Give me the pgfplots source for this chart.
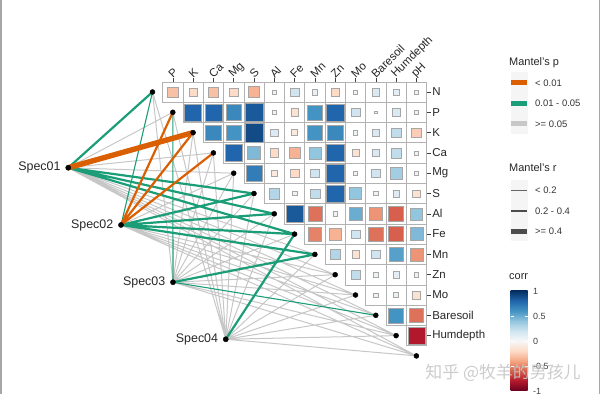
\documentclass[border=0pt]{standalone}
\usepackage{pgfplots}
\pgfplotsset{compat=1.18}
\usepackage{pgfplotstable}
\usepackage{fontspec}
\setmainfont{Liberation Sans}
\newfontfamily\cjk{Noto Sans CJK SC}

\definecolor{rb0}{RGB}{103,0,31}
\definecolor{rb1}{RGB}{178,24,43}
\definecolor{rb2}{RGB}{214,96,77}
\definecolor{rb3}{RGB}{244,165,130}
\definecolor{rb4}{RGB}{253,219,199}
\definecolor{rb5}{RGB}{247,247,247}
\definecolor{rb6}{RGB}{209,229,240}
\definecolor{rb7}{RGB}{146,197,222}
\definecolor{rb8}{RGB}{67,147,195}
\definecolor{rb9}{RGB}{33,102,172}
\definecolor{rb10}{RGB}{5,48,97}
\definecolor{mporange}{HTML}{D95F02}
\definecolor{mpgreen}{HTML}{1B9E77}
\definecolor{mpgray}{HTML}{A2A2A2}

\pgfdeclareverticalshading{rdbu}{100bp}{color(0bp)=(rb0); color(25bp)=(rb0); color(30bp)=(rb1); color(35bp)=(rb2); color(40bp)=(rb3); color(45bp)=(rb4); color(50bp)=(rb5); color(55bp)=(rb6); color(60bp)=(rb7); color(65bp)=(rb8); color(70bp)=(rb9); color(75bp)=(rb10); color(100bp)=(rb10)}

% correlation matrix: x = column (P..pH), y = row (N..Humdepth)
\pgfplotstableread{
x y r
0 0 -0.30
1 0 -0.20
2 0 -0.30
3 0 -0.20
4 0 -0.35
5 0 -0.05
6 0 0.20
7 0 0.08
8 0 -0.20
9 0 0.05
10 0 0.15
11 0 0.10
12 0 0.05
1 1 0.80
2 1 0.80
3 1 0.65
4 1 0.85
5 1 0.05
6 1 -0.15
7 1 0.60
8 1 0.80
9 1 0.20
10 1 0.02
11 1 0.15
12 1 0.05
2 2 0.65
3 2 0.60
4 2 0.90
5 2 0.15
6 2 -0.10
7 2 0.60
8 2 0.65
9 2 0.05
10 2 0.15
11 2 0.25
12 2 -0.25
3 3 0.80
4 3 0.45
5 3 -0.20
6 3 -0.35
7 3 0.40
8 3 0.80
9 3 -0.15
10 3 0.15
11 3 0.25
12 3 0.05
4 4 0.70
5 4 -0.10
6 4 -0.20
7 4 0.20
8 4 0.80
9 4 0.05
10 4 0.20
11 4 0.35
12 4 0.05
5 5 0.30
6 5 0.05
7 5 0.25
8 5 0.80
9 5 0.40
10 5 0.05
11 5 0.12
12 5 -0.15
6 6 0.85
7 6 -0.55
8 6 0.05
9 6 0.50
10 6 -0.45
11 6 -0.60
12 6 0.40
7 7 -0.50
8 7 -0.35
9 7 0.20
10 7 -0.55
11 7 -0.60
12 7 0.45
8 8 0.30
9 8 -0.15
10 8 0.20
11 8 0.55
12 8 -0.45
9 9 0.25
10 9 0.05
11 9 0.10
12 9 0.05
10 10 0.05
11 10 0.07
12 10 -0.15
11 11 0.60
12 11 -0.55
12 12 -0.80
}\corr

% Mantel links, p >= 0.05 (grey, r < 0.2)
\pgfplotstableread{
x y
-5.15 3.73
0 1
nan nan
-5.15 3.73
2 3
nan nan
-5.15 3.73
3 4
nan nan
-5.15 3.73
7 8
nan nan
-5.15 3.73
8 9
nan nan
-5.15 3.73
9 10
nan nan
-5.15 3.73
10 11
nan nan
-5.15 3.73
11 12
nan nan
-5.15 3.73
12 13
nan nan
-2.55 6.55
3 4
nan nan
-2.55 6.55
8 9
nan nan
-2.55 6.55
9 10
nan nan
-2.55 6.55
10 11
nan nan
-2.55 6.55
11 12
nan nan
-2.55 6.55
12 13
nan nan
0.01 9.37
-1 0
nan nan
0.01 9.37
1 2
nan nan
0.01 9.37
2 3
nan nan
0.01 9.37
3 4
nan nan
0.01 9.37
4 5
nan nan
0.01 9.37
5 6
nan nan
0.01 9.37
6 7
nan nan
0.01 9.37
8 9
nan nan
0.01 9.37
9 10
nan nan
0.01 9.37
11 12
nan nan
0.01 9.37
12 13
nan nan
2.61 12.18
-1 0
nan nan
2.61 12.18
0 1
nan nan
2.61 12.18
1 2
nan nan
2.61 12.18
2 3
nan nan
2.61 12.18
3 4
nan nan
2.61 12.18
4 5
nan nan
2.61 12.18
5 6
nan nan
2.61 12.18
7 8
nan nan
2.61 12.18
8 9
nan nan
2.61 12.18
9 10
nan nan
2.61 12.18
10 11
nan nan
2.61 12.18
11 12
nan nan
2.61 12.18
12 13
}\greylinks

% 0.01 - 0.05, r 0.2 - 0.4
\pgfplotstableread{
x y
-5.15 3.73
-1 0
nan nan
-5.15 3.73
4 5
nan nan
-5.15 3.73
5 6
nan nan
-5.15 3.73
6 7
nan nan
-2.55 6.55
4 5
nan nan
-2.55 6.55
5 6
nan nan
-2.55 6.55
6 7
nan nan
-2.55 6.55
7 8
nan nan
0.01 9.37
7 8
nan nan
2.61 12.18
6 7
}\greenmid

% 0.01 - 0.05, r < 0.2
\pgfplotstableread{
x y
-2.55 6.55
-1 0
nan nan
0.01 9.37
0 1
nan nan
0.01 9.37
10 11
}\greenthin

% p < 0.01, r 0.2 - 0.4
\pgfplotstableread{
x y
-2.55 6.55
0 1
nan nan
-2.55 6.55
1 2
nan nan
-2.55 6.55
2 3
}\orangemid

% p < 0.01, r >= 0.4
\pgfplotstableread{
x y
-5.15 3.73
1 2
}\orangethick

\begin{document}
\begin{tikzpicture}
\begin{axis}[name=main, hide axis, clip=false, scale only axis,
  x=20.3bp, y=20.3bp, y dir=reverse,
  xmin=-8.512, xmax=21.044, ymin=-4.532, ymax=14.877,
  unbounded coords=jump,
  colormap={rdbu}{rgb255(0cm)=(103,0,31) rgb255(1cm)=(178,24,43) rgb255(2cm)=(214,96,77) rgb255(3cm)=(244,165,130) rgb255(4cm)=(253,219,199) rgb255(5cm)=(247,247,247) rgb255(6cm)=(209,229,240) rgb255(7cm)=(146,197,222) rgb255(8cm)=(67,147,195) rgb255(9cm)=(33,102,172) rgb255(10cm)=(5,48,97)},
  point meta min=-1, point meta max=1]

% links
\addplot[mpgray, opacity=0.6, line width=1bp] table[x=x,y=y] \greylinks;
\addplot[mpgreen, line width=1.1bp] table[x=x,y=y] \greenthin;
\addplot[mpgreen, line width=2.2bp] table[x=x,y=y] \greenmid;
\addplot[mporange, line width=2.2bp] table[x=x,y=y] \orangemid;
\addplot[mporange, line width=5.4bp] table[x=x,y=y] \orangethick;

% grid cells
\addplot[only marks, mark=square*, mark size=10.15bp,
  mark options={fill=white, draw=gray!60, line width=0.6bp}] table[x=x,y=y] \corr;

% correlation squares
\addplot[scatter, only marks, mark=square*, point meta=\thisrow{r},
  scatter/use mapped color={draw=gray!70, fill=mapped color},
  visualization depends on={sqrt(abs(\thisrow{r}))*9.6 \as \msize},
  scatter/@pre marker code/.append style={/tikz/mark size=\msize bp},
  mark options={line width=0.4bp}] table[x=x,y=y] \corr;

% column labels (top)
\addplot[only marks, mark=|, mark size=2bp, mark options={draw=black!75, line width=0.5bp},
  point meta=explicit symbolic, nodes near coords,
  nodes near coords style={yshift=3.5bp, xshift=-3bp, rotate=45, anchor=west, inner sep=0.5bp,
    font=\fontsize{11.5}{13}\selectfont, text=black!85}]
  table[x=x,y=y,meta=lab] {
x y lab
0 -0.5985 P
1 -0.5985 K
2 -0.5985 Ca
3 -0.5985 Mg
4 -0.5985 S
5 -0.5985 Al
6 -0.5985 Fe
7 -0.5985 Mn
8 -0.5985 Zn
9 -0.5985 Mo
10 -0.5985 Baresoil
11 -0.5985 Humdepth
12 -0.5985 pH
};

% row labels (right)
\addplot[only marks, mark=-, mark size=2bp, mark options={draw=black!75, line width=0.5bp},
  point meta=explicit symbolic, nodes near coords,
  nodes near coords style={anchor=west, xshift=3bp, inner sep=0.5bp,
    font=\fontsize{11.5}{13}\selectfont, text=black!85}]
  table[x=x,y=y,meta=lab] {
x y lab
12.5985 0 N
12.5985 1 P
12.5985 2 K
12.5985 3 Ca
12.5985 4 Mg
12.5985 5 S
12.5985 6 Al
12.5985 7 Fe
12.5985 8 Mn
12.5985 9 Zn
12.5985 10 Mo
12.5985 11 Baresoil
12.5985 12 Humdepth
};

% environment anchor dots
\addplot[only marks, mark=*, mark size=2.5bp, black] table {
x y
-1 0
0 1
1 2
2 3
3 4
4 5
5 6
6 7
7 8
8 9
9 10
10 11
11 12
12 13
};

% species nodes
\addplot[only marks, mark=*, mark size=2.6bp, black,
  point meta=explicit symbolic, nodes near coords,
  nodes near coords style={anchor=east, xshift=-7bp, inner sep=0.5bp,
    font=\fontsize{12.5}{14}\selectfont, text=black!85}]
  table[x=x,y=y,meta=lab] {
x y lab
-5.15 3.73 Spec01
-2.55 6.55 Spec02
0.01 9.37 Spec03
2.61 12.18 Spec04
};
\end{axis}

\begin{scope}[shift={(main.north west)}, x=1bp, y=-1bp]
% frame edges
\draw[gray!70, line width=1.5bp] (0.75,0) -- (0.75,394);
\draw[gray!70, line width=1.5bp] (599.25,0) -- (599.25,394);

% Mantel's p legend
\node[anchor=base west, inner sep=0pt, font=\fontsize{11}{13}\selectfont, text=black!85] at (509,66) {Mantel's p};
\fill[gray!8] (510.5,72.5) rectangle (527.5,134);
\draw[mporange, line width=5bp] (511,83) -- (527,83);
\draw[mpgreen, line width=5bp] (511,103.5) -- (527,103.5);
\draw[mpgray, opacity=0.55, line width=5bp] (511,124) -- (527,124);
\begin{scope}[every node/.style={anchor=west, inner sep=0pt, font=\fontsize{9.5}{11}\selectfont, text=black!80}]
\node at (535,83) {< 0.01};
\node at (535,103.5) {0.01 - 0.05};
\node at (535,124) {>= 0.05};
\end{scope}

% Mantel's r legend
\node[anchor=base west, inner sep=0pt, font=\fontsize{11}{13}\selectfont, text=black!85] at (509,172) {Mantel's r};
\fill[gray!8] (510.5,180) rectangle (527.5,241.5);
\draw[black!60, line width=1.1bp] (511,190.5) -- (527,190.5);
\draw[black!70, line width=2.4bp] (511,211) -- (527,211);
\draw[black!70, line width=4.6bp] (511,231.5) -- (527,231.5);
\begin{scope}[every node/.style={anchor=west, inner sep=0pt, font=\fontsize{9.5}{11}\selectfont, text=black!80}]
\node at (535,190.5) {< 0.2};
\node at (535,211) {0.2 - 0.4};
\node at (535,231.5) {>= 0.4};
\end{scope}

% corr colour bar
\node[anchor=base west, inner sep=0pt, font=\fontsize{11}{13}\selectfont, text=black!85] at (509,280) {corr};
\path[shading=rdbu] (510.5,391) rectangle (527.5,291);
\foreach \yy in {316,341,366}{
  \draw[white, line width=0.6bp] (510.5,\yy) -- (513.5,\yy);
  \draw[white, line width=0.6bp] (524.5,\yy) -- (527.5,\yy);
}
\begin{scope}[every node/.style={anchor=west, inner sep=0pt, font=\fontsize{9}{10}\selectfont, text=black!75}]
\node at (533,291) {1};
\node at (533,316) {0.5};
\node at (533,341) {0};
\node at (533,366) {-0.5};
\node at (533,391) {-1};
\end{scope}

% watermark
\node[anchor=center, inner sep=0pt, text=gray!45, opacity=0.9, font=\cjk\fontsize{17}{19}\selectfont] at (503,373) {知乎 @牧羊的男孩儿};
\end{scope}

\pgfresetboundingbox
\useasboundingbox (main.south west) rectangle (main.north east);
\end{tikzpicture}
\end{document}
